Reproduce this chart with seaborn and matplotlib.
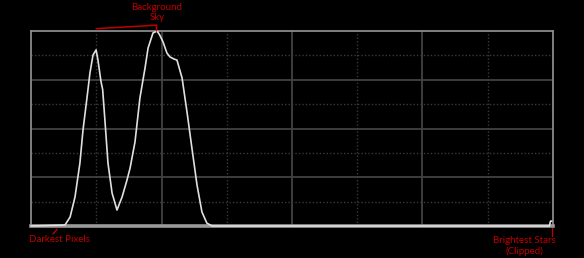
import matplotlib
matplotlib.use("Agg")
import matplotlib.pyplot as plt
import seaborn as sns
import pandas as pd
from matplotlib.lines import Line2D

# Histogram (brightness level 0-255, relative pixel count)
levels = [0, 16.6, 19.1, 21.5, 23.9, 25.4, 27.4, 28.8, 30.3, 31.8, 32.7, 34.2, 35.0,
          36.1, 37.6, 39.6, 42.0, 44.5, 46.9, 48.4, 50.8, 53.2, 55.7, 57.2, 59.6,
          61.6, 62.9, 64.5, 66.4, 67.9, 69.9, 71.3, 73.8, 76.2, 78.6, 81.1, 83.5,
          85.9, 88.4, 253.2, 253.8, 254.4]
counts = [0, 0.005, 0.046, 0.149, 0.323, 0.492, 0.662, 0.785, 0.877, 0.903, 0.851,
          0.74, 0.70, 0.544, 0.323, 0.169, 0.082, 0.149, 0.236, 0.297, 0.431, 0.656,
          0.810, 0.913, 0.990, 1.0, 0.979, 0.944, 0.887, 0.867, 0.856, 0.851, 0.759,
          0.585, 0.400, 0.210, 0.072, 0.015, 0.0, 0.0, 0.025, 0.025]

labels = {"sky": "Background\nSky", "dark": "Darkest Pixels", "bright": "Brightest Stars\n(Clipped)"}

df = pd.DataFrame({"level": levels, "count": counts})

sns.set_style("dark", {"axes.facecolor": "black", "figure.facecolor": "black"})
plt.rcParams["font.family"] = ["Lato", "DejaVu Sans"]

fig = plt.figure(figsize=(5.84, 2.58), dpi=100, facecolor="black")
W, H = 584, 258
ax = fig.add_axes([31 / W, (H - 226) / H, 522 / W, 195 / H])
ax.set_facecolor("black")

ax.set_xlim(0, 255)
ax.set_ylim(0, 1.0)
ax.set_xticks([63.75, 127.5, 191.25])
ax.set_xticks([31.875, 95.625, 159.375, 223.125], minor=True)
ax.set_yticks([0.25, 0.5, 0.75])
ax.set_yticks([0.125, 0.375, 0.625, 0.875], minor=True)
ax.grid(True, which="major", color="#424242", lw=1.3, ls="-")
ax.grid(True, which="minor", color="#3a3a3a", lw=1.0, ls=(0, (1, 1.5)))
ax.tick_params(which="both", length=0, labelbottom=False, labelleft=False)

sns.lineplot(data=df, x="level", y="count", ax=ax, color="#e0e0e0", lw=1.2,
             estimator=None, sort=False, clip_on=False, zorder=5)
ax.set_xlabel("")
ax.set_ylabel("")

for s in ["top", "left", "right"]:
    ax.spines[s].set_color("#8a8a8a")
    ax.spines[s].set_linewidth(1.3)
    ax.spines[s].set_visible(True)
ax.spines["bottom"].set_color("#9a9a9a")
ax.spines["bottom"].set_linewidth(2.6)
ax.spines["bottom"].set_visible(True)

red = "#c00000"
# Background sky connector (data coords)
ax.plot([31.8, 61.3, 61.3], [1.012, 1.03, 1.0], color=red, lw=1.1, clip_on=False, zorder=6)
fig.text(157 / W, 1 - 12.5 / H, labels["sky"], color=red, fontsize=7, ha="center",
         va="center", linespacing=1.15)

# Darkest pixels
fig.add_artist(Line2D([53 / W, 57 / W], [1 - 234 / H, 1 - 229.5 / H], color=red, lw=1))
fig.text(29 / W, 1 - 239 / H, labels["dark"], color=red, fontsize=7, ha="left", va="center")

# Brightest stars
fig.add_artist(Line2D([551.5 / W, 551.5 / W], [1 - 228 / H, 1 - 236 / H], color=red, lw=1))
fig.text(556 / W, 1 - 246 / H, labels["bright"], color=red, fontsize=7, ha="right",
         va="center", linespacing=1.15, multialignment="center")

fig.savefig("out.png", dpi=100, facecolor="black")
